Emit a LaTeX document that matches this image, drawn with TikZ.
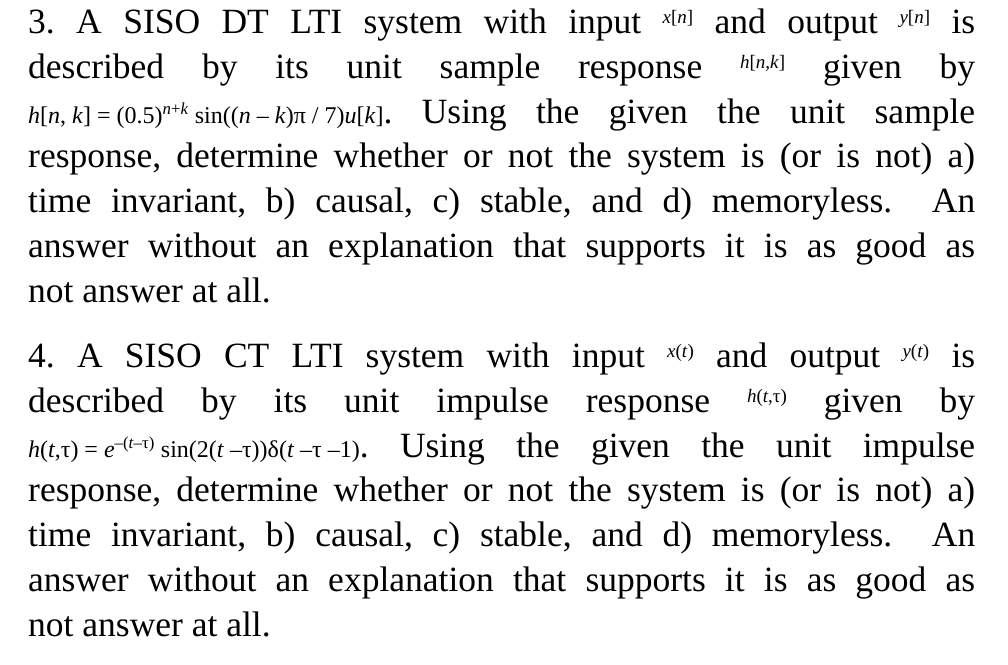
\documentclass[tikz,border=0pt]{standalone}
\usepackage{fontspec}
\setmainfont{Liberation Serif}
\newcommand{\fm}[1]{\mbox{\fontsize{24}{24}\selectfont #1}}
\newcommand{\sm}[1]{\raisebox{10pt}{\fontsize{19}{19}\selectfont #1}}
\newcommand{\hi}[1]{\textit{#1}}
\frenchspacing
\begin{document}
\begin{tikzpicture}[x=1pt,y=1pt,
  para/.style={anchor=north west,inner sep=0pt,text width=947pt,align=justify,font=\fontsize{35.5}{44.7}\selectfont}]
\useasboundingbox (0,0) rectangle (1008,-664);
\node[para] (p3) at (28,-9) {3. A SISO DT LTI system with input \sm{\hi{x}[\hi{n}]} and output \sm{\hi{y}[\hi{n}]} is\linebreak described by its unit sample response \sm{\hi{h}[\hi{n},\hi{k}]} given by\linebreak \fm{\hi{h}[\hi{n}, \hi{k}] = (0.5)\textsuperscript{\hi{n}+\hi{k}} sin((\hi{n} – \hi{k})π / 7)\hi{u}[\hi{k}]}. Using the given the unit sample\linebreak response, determine whether or not the system is (or is not) a)\linebreak time invariant, b) causal, c) stable, and d) memoryless. \ An\linebreak answer without an explanation that supports it is as good as\linebreak not answer at all.\par};
\node[para] (p4) at (28,-343) {4. A SISO CT LTI system with input \sm{\hi{x}(\hi{t})} and output \sm{\hi{y}(\hi{t})} is\linebreak described by its unit impulse response \sm{\hi{h}(\hi{t},τ)} given by\linebreak \fm{\hi{h}(\hi{t},τ) = \hi{e}\textsuperscript{–(\hi{t}–τ)} sin(2(\hi{t} –τ))δ(\hi{t} –τ –1)}. Using the given the unit impulse\linebreak response, determine whether or not the system is (or is not) a)\linebreak time invariant, b) causal, c) stable, and d) memoryless. \ An\linebreak answer without an explanation that supports it is as good as\linebreak not answer at all.\par};
\end{tikzpicture}
\end{document}
